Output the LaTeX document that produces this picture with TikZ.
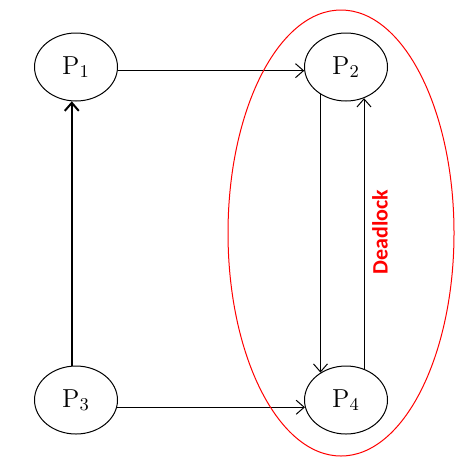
\documentclass[tikz,border=0pt]{standalone}
\usepackage{fontspec}
\usepackage{tikz}
\usetikzlibrary{shapes.geometric,arrows.meta}
\newfontfamily\tagfont{Carlito}

\tikzset{
  proc/.style={draw, ellipse, line width=0.5pt, minimum width=41.5pt, minimum height=34pt, inner sep=0pt, font=\fontsize{13}{15}\selectfont},
  edge/.style={line width=0.5pt, -{Straight Barb[length=4pt,width=7pt]}}
}

\begin{document}
\begin{tikzpicture}[x=0.5pt, y=-0.5pt]
            \useasboundingbox (0,0) rectangle (474,467);

            \node[proc] (p1) at (76, 67) {P$_1$};
            \node[proc] (p2) at (346, 67) {P$_2$};
            \node[proc] (p3) at (76, 400) {P$_3$};
            \node[proc] (p4) at (346, 400) {P$_4$};

            \draw[edge] (p1.-5) -- (p2.185);
            \draw[edge] (p3.-10) -- (p4.190);
            \draw[edge, line width=1pt] (p3.97) -- (p1.263);
            \draw[edge] (p2.227) -- (p4.133);
            \draw[edge] (p4.60) -- (p2.300);

            \draw[red, line width=0.5pt] (341, 233) ellipse [x radius=113, y radius=223];
            \node[red, rotate=90, font=\tagfont\bfseries\fontsize{11}{13}\selectfont] (tag) at (380, 232) {Deadlock};
        \end{tikzpicture}
\end{document}
